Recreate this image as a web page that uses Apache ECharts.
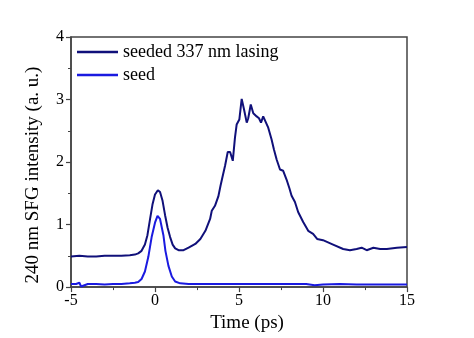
<!DOCTYPE html>
<html>
<head>
<meta charset="utf-8">
<script src="https://cdn.jsdelivr.net/npm/echarts@6/dist/echarts.min.js"></script>
<style>html,body{margin:0;padding:0;background:#fff;}#c{width:474px;height:338px;}</style>
</head>
<body>
<div id="c"></div>
<script>
var xTicks = [-5, 0, 5, 10, 15];
var yTicks = [0, 1, 2, 3, 4];
var seriesNames = ['seeded 337 nm lasing', 'seed'];

var lasingT = [-5, -4.5, -4, -3.5, -3, -2.5, -2, -1.5, -1.2, -1.0, -0.8, -0.6, -0.45, -0.3, -0.15, 0, 0.17, 0.3, 0.45, 0.6, 0.75, 0.9, 1.05, 1.2, 1.4, 1.7, 2.0, 2.4, 2.7, 3.0, 3.28, 3.38, 3.57, 3.77, 3.9, 4.0, 4.17, 4.33, 4.47, 4.63, 4.76, 4.86, 5.02, 5.16, 5.30, 5.46, 5.55, 5.70, 5.85, 6.05, 6.19, 6.31, 6.44, 6.55, 6.74, 6.94, 7.08, 7.24, 7.44, 7.63, 7.83, 8.0, 8.13, 8.33, 8.52, 8.82, 9.12, 9.41, 9.65, 10.0, 10.6, 11.2, 11.6, 12.0, 12.3, 12.6, 13.0, 13.4, 13.8, 14.4, 15.0];
var lasingY = [0.49, 0.50, 0.49, 0.49, 0.50, 0.50, 0.50, 0.51, 0.52, 0.54, 0.58, 0.68, 0.83, 1.08, 1.32, 1.48, 1.55, 1.52, 1.38, 1.15, 0.95, 0.80, 0.68, 0.62, 0.59, 0.59, 0.63, 0.69, 0.77, 0.90, 1.09, 1.22, 1.30, 1.45, 1.62, 1.74, 1.94, 2.16, 2.16, 2.02, 2.39, 2.60, 2.68, 3.01, 2.84, 2.63, 2.70, 2.92, 2.78, 2.73, 2.70, 2.63, 2.73, 2.70, 2.55, 2.36, 2.20, 2.04, 1.88, 1.86, 1.72, 1.58, 1.46, 1.36, 1.20, 1.04, 0.90, 0.85, 0.77, 0.75, 0.68, 0.61, 0.59, 0.61, 0.63, 0.59, 0.63, 0.61, 0.61, 0.63, 0.64];

var seedT = [-5, -4.7, -4.5, -4.4, -4.2, -4, -3.5, -3, -2.5, -2, -1.5, -1.2, -1.0, -0.8, -0.6, -0.4, -0.2, 0, 0.15, 0.3, 0.5, 0.62, 0.8, 1.0, 1.2, 1.5, 2.0, 3, 4, 5, 6, 7, 8, 9, 9.5, 10, 11, 12, 13, 14, 15];
var seedY = [0.05, 0.05, 0.07, 0.01, 0.03, 0.05, 0.05, 0.04, 0.05, 0.05, 0.06, 0.07, 0.08, 0.13, 0.25, 0.48, 0.80, 1.03, 1.14, 1.09, 0.83, 0.58, 0.34, 0.17, 0.09, 0.06, 0.05, 0.05, 0.05, 0.05, 0.05, 0.05, 0.05, 0.05, 0.03, 0.04, 0.05, 0.04, 0.04, 0.04, 0.04];

function pairs(t, y) { return t.map(function (v, i) { return [v, y[i]]; }); }

var font = 'Liberation Serif';
var chart = echarts.init(document.getElementById('c'));
chart.setOption({
  animation: false,
  backgroundColor: '#fff',
  grid: { left: 71, right: 67, top: 37, bottom: 49, show: true, borderColor: '#444', borderWidth: 1.5 },
  legend: {
    orient: 'vertical', left: 77, top: 43, padding: 0, itemWidth: 41, itemHeight: 2.5, itemGap: 5,
    icon: 'rect',
    textStyle: { fontFamily: font, fontSize: 18, color: '#000' },
    data: seriesNames
  },
  xAxis: {
    type: 'value', min: xTicks[0], max: xTicks[xTicks.length - 1], interval: 5,
    name: 'Time (ps)', nameLocation: 'middle', nameGap: 25,
    nameTextStyle: { fontFamily: font, fontSize: 19, color: '#000', padding: [0, 0, 0, 16] },
    axisLine: { onZero: false, lineStyle: { color: '#444', width: 1.5 } },
    axisTick: { length: 5, lineStyle: { color: '#444', width: 1.2 } },
    minorTick: { show: true, splitNumber: 2, length: 3, lineStyle: { color: '#444', width: 1 } },
    axisLabel: { fontFamily: font, fontSize: 16, color: '#000', margin: 6 },
    splitLine: { show: false }
  },
  yAxis: {
    type: 'value', min: yTicks[0], max: yTicks[yTicks.length - 1], interval: 1,
    name: '240 nm SFG intensity (a. u.)', nameLocation: 'middle', nameGap: 28,
    nameTextStyle: { fontFamily: font, fontSize: 19, color: '#000', padding: [0, 26, 0, 0] },
    axisLine: { onZero: false, lineStyle: { color: '#444', width: 1.5 } },
    axisTick: { length: 5, lineStyle: { color: '#444', width: 1.2 } },
    minorTick: { show: true, splitNumber: 2, length: 3, lineStyle: { color: '#444', width: 1 } },
    axisLabel: { fontFamily: font, fontSize: 16, color: '#000', margin: 7 },
    splitLine: { show: false }
  },
  series: [
    { name: seriesNames[0], type: 'line', data: pairs(lasingT, lasingY), showSymbol: false, symbol: 'none',
      lineStyle: { color: '#10107a', width: 2 }, itemStyle: { color: '#10107a' } },
    { name: seriesNames[1], type: 'line', data: pairs(seedT, seedY), showSymbol: false, symbol: 'none',
      lineStyle: { color: '#1a1ae0', width: 2 }, itemStyle: { color: '#1a1ae0' } }
  ]
});
</script>
</body>
</html>
